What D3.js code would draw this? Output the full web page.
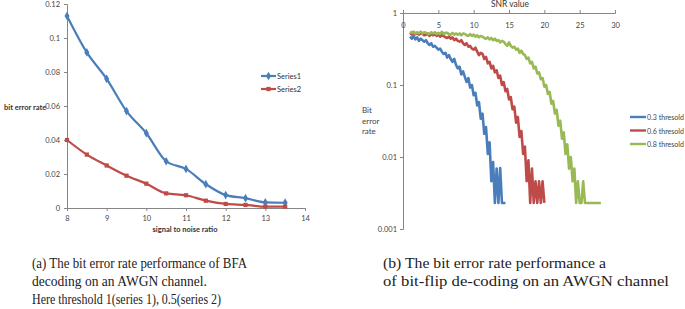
<!DOCTYPE html>
<html lang="en">
<head>
<meta charset="UTF-8">
<title>BER charts</title>
<script src="https://d3js.org/d3.v7.min.js"></script>
<style>
  body { margin: 0; background: #fff; }
  svg { display: block; }
  .tick text { font-family: Lato, "Open Sans", sans-serif; fill: #444; }
</style>
</head>
<body>
<div id="chart"></div>
<script>
// ---- left chart (a)
const snrA = [8, 8.5, 9, 9.5, 10, 10.5, 11, 11.5, 12, 12.5, 13, 13.5];
const series1 = [0.113, 0.0915, 0.076, 0.057, 0.044, 0.0275, 0.023, 0.014, 0.0076, 0.0058, 0.0033, 0.0031];
const series2 = [0.040, 0.0314, 0.025, 0.019, 0.0143, 0.0086, 0.0075, 0.0043, 0.0024, 0.0018, 0.0008, 0.0008];
const yTicksA = [0, 0.02, 0.04, 0.06, 0.08, 0.1, 0.12];
const xTicksA = [8, 9, 10, 11, 12, 13, 14];

// ---- right chart (b), SNR sampled every 0.25 starting at 1
const snrStep = 0.25;
const ber03 = [
  0.47, 0.44, 0.48, 0.43, 0.46, 0.41, 0.44, 0.42, 0.40, 0.42, 0.38, 0.36,
  0.38, 0.34, 0.35, 0.33, 0.31, 0.32, 0.29, 0.27, 0.28, 0.24, 0.26, 0.23,
  0.21, 0.23, 0.19, 0.17, 0.18, 0.14, 0.155, 0.13, 0.11, 0.125, 0.092, 0.10,
  0.072, 0.078, 0.052, 0.058, 0.034, 0.04, 0.021, 0.026, 0.011, 0.016, 0.0046, 0.0085,
  0.0023, 0.0069, 0.0023, 0.007, 0.0023, 0.0023, 0.0023
];
const ber06 = [
  0.53, 0.50, 0.54, 0.51, 0.53, 0.50, 0.52, 0.52, 0.49, 0.50, 0.52, 0.48,
  0.51, 0.49, 0.51, 0.48, 0.50, 0.47, 0.49, 0.48, 0.46, 0.45, 0.47, 0.44,
  0.46, 0.42, 0.44, 0.41, 0.40, 0.42, 0.38, 0.36, 0.38, 0.34, 0.35, 0.32,
  0.31, 0.33, 0.29, 0.26, 0.28, 0.27, 0.23, 0.245, 0.20, 0.21, 0.17, 0.185,
  0.15, 0.16, 0.125, 0.135, 0.10, 0.11, 0.082, 0.088, 0.063, 0.068, 0.046, 0.05,
  0.03, 0.036, 0.019, 0.023, 0.011, 0.014, 0.0046, 0.009, 0.0023, 0.0069, 0.0023, 0.0046,
  0.0023, 0.0046, 0.0023, 0.0046, 0.0023
];
const ber08 = [
  0.55, 0.53, 0.55, 0.52, 0.54, 0.52, 0.55, 0.52, 0.54, 0.53, 0.52, 0.51,
  0.54, 0.52, 0.54, 0.51, 0.53, 0.51, 0.55, 0.51, 0.53, 0.53, 0.51, 0.50,
  0.53, 0.50, 0.52, 0.50, 0.52, 0.49, 0.52, 0.51, 0.49, 0.48, 0.51, 0.48,
  0.50, 0.47, 0.49, 0.46, 0.48, 0.47, 0.45, 0.44, 0.46, 0.43, 0.45, 0.42,
  0.44, 0.41, 0.42, 0.39, 0.41, 0.40, 0.37, 0.35, 0.39, 0.35, 0.33, 0.34,
  0.31, 0.32, 0.28, 0.30, 0.27, 0.26, 0.23, 0.24, 0.20, 0.21, 0.17, 0.18,
  0.145, 0.15, 0.12, 0.125, 0.095, 0.10, 0.075, 0.08, 0.055, 0.06, 0.04, 0.045,
  0.027, 0.032, 0.018, 0.022, 0.011, 0.015, 0.0069, 0.01, 0.0046, 0.0069, 0.0023, 0.0046,
  0.0023, 0.0023, 0.0046, 0.0023, 0.0023, 0.0023, 0.0023, 0.0023, 0.0023, 0.0023, 0.0023, 0.0023,
  0.0023
];
const yTicksB = [1, 0.1, 0.01, 0.001];
const xTicksB = [0, 5, 10, 15, 20, 25, 30];
const legendB = ["0.3 thresold", "0.6 thresold", "0.8 thresold"];

const captionA = ["(a) The bit error rate performance of BFA", "decoding on an AWGN channel.", "Here threshold 1(series 1), 0.5(series 2)"];
const captionB = ["(b) The bit error rate performance a", "of bit-flip de-coding on an AWGN channel"];

const width = 685, height = 309;
const svg = d3.select("#chart").append("svg")
  .attr("width", width).attr("height", height);

const axisCol = "#868686";
const smallFont = "Lato, 'Open Sans', sans-serif";

// ================= chart (a)
const xA = d3.scaleLinear().domain([8, 14]).range([67, 305]);
const yA = d3.scaleLinear().domain([0, 0.12]).range([208, 4]);

const gA = svg.append("g");
gA.append("g").attr("transform", "translate(67,0)")
  .call(d3.axisLeft(yA).tickValues(yTicksA).tickSize(3).tickPadding(4).tickFormat(d => d === 0 ? "0" : String(+d.toFixed(2))))
  .call(g => g.selectAll("line,path").attr("stroke", axisCol))
  .call(g => g.selectAll("text").attr("font-size", 7.5));
gA.append("g").attr("transform", "translate(0,208)")
  .call(d3.axisBottom(xA).tickValues(xTicksA).tickSize(3).tickPadding(5).tickFormat(d3.format("d")))
  .call(g => g.selectAll("line,path").attr("stroke", axisCol))
  .call(g => g.selectAll("text").attr("font-size", 7.5));

gA.append("text").attr("x", 4).attr("y", 110).attr("font-size", 7.5)
  .attr("font-family", smallFont).attr("font-weight", "bold").attr("fill", "#333")
  .text("bit error rate");
gA.append("text").attr("x", 185).attr("y", 232).attr("text-anchor", "middle")
  .attr("font-size", 7.5).attr("font-family", smallFont).attr("font-weight", "bold").attr("fill", "#333")
  .text("signal  to noise ratio");

const lineA = d3.line().x((d, i) => xA(snrA[i])).y(d => yA(d)).curve(d3.curveMonotoneX);
const seriesA = [
  {name: "Series1", vals: series1, color: "#4a7ebb", mark: d3.symbolDiamond},
  {name: "Series2", vals: series2, color: "#be4b48", mark: d3.symbolSquare}
];
seriesA.forEach((s, k) => {
  gA.append("path").datum(s.vals).attr("d", lineA)
    .attr("fill", "none").attr("stroke", s.color).attr("stroke-width", 2.2);
  gA.selectAll(null).data(s.vals).join("path")
    .attr("transform", (d, i) => `translate(${xA(snrA[i])},${yA(d)})`)
    .attr("d", d3.symbol(s.mark, k === 0 ? 22 : 18))
    .attr("fill", s.color);
  const ly = 76 + k * 13;
  gA.append("line").attr("x1", 261).attr("x2", 276).attr("y1", ly).attr("y2", ly)
    .attr("stroke", s.color).attr("stroke-width", 2.2);
  gA.append("path").attr("transform", `translate(268.5,${ly})`)
    .attr("d", d3.symbol(s.mark, k === 0 ? 22 : 18)).attr("fill", s.color);
  gA.append("text").attr("x", 277).attr("y", ly + 3).attr("font-size", 7.5)
    .attr("font-family", smallFont).attr("fill", "#333").text(s.name);
});

// ================= chart (b)
const xB = d3.scaleLinear().domain([0, 30]).range([403, 615]);
const yB = d3.scaleLog().domain([0.001, 1]).range([229, 13]);

const gB = svg.append("g");
gB.append("g").attr("transform", "translate(403,0)")
  .call(d3.axisLeft(yB).tickValues(yTicksB).tickSize(3).tickPadding(3).tickFormat(d => String(d)))
  .call(g => g.selectAll("line,path").attr("stroke", axisCol))
  .call(g => g.selectAll("text").attr("font-size", 7.5));
gB.append("g").attr("transform", "translate(0,13)")
  .call(d3.axisTop(xB).tickValues(xTicksB).tickSize(3).tickPadding(-18))
  .call(g => g.selectAll("line,path").attr("stroke", axisCol))
  .call(g => g.selectAll("text").attr("font-size", 7.5));

gB.append("text").attr("x", 510).attr("y", 7).attr("text-anchor", "middle")
  .attr("font-size", 8.5).attr("font-family", smallFont).attr("fill", "#333").text("SNR value");
["Bit", "error", "rate"].forEach((t, i) => {
  gB.append("text").attr("x", 362).attr("y", 113 + i * 10.5).attr("font-size", 8)
    .attr("font-family", smallFont).attr("fill", "#444").text(t);
});

const colorsB = ["#4a7ebb", "#be4b48", "#98b954"];
[ber03, ber06, ber08].forEach((vals, k) => {
  const line = d3.line().x((d, i) => xB(1 + i * snrStep)).y(d => yB(d));
  gB.append("path").datum(vals).attr("d", line)
    .attr("fill", "none").attr("stroke", colorsB[k]).attr("stroke-width", 2.6)
    .attr("stroke-linejoin", "round");
  const ly = 117 + k * 13.5;
  gB.append("line").attr("x1", 630).attr("x2", 646).attr("y1", ly).attr("y2", ly)
    .attr("stroke", colorsB[k]).attr("stroke-width", 2.4);
  gB.append("text").attr("x", 647).attr("y", ly + 3).attr("font-size", 7.5)
    .attr("font-family", smallFont).attr("fill", "#444")
    .attr("textLength", 37).attr("lengthAdjust", "spacingAndGlyphs").text(legendB[k]);
});

// ================= captions
const capFont = "'Liberation Serif', 'DejaVu Serif', serif";
const capWidthsA = [215, 175, 189];
captionA.forEach((t, i) => {
  svg.append("text").attr("x", 32).attr("y", 268 + i * 18)
    .attr("font-family", capFont).attr("font-size", 15.5).attr("fill", "#222")
    .attr("textLength", capWidthsA[i]).attr("lengthAdjust", "spacingAndGlyphs").text(t);
});
const capWidthsB = [223, 286];
captionB.forEach((t, i) => {
  svg.append("text").attr("x", 383).attr("y", 268 + i * 18)
    .attr("font-family", capFont).attr("font-size", 15.5).attr("fill", "#222")
    .attr("textLength", capWidthsB[i]).attr("lengthAdjust", "spacingAndGlyphs").text(t);
});
</script>
</body>
</html>
